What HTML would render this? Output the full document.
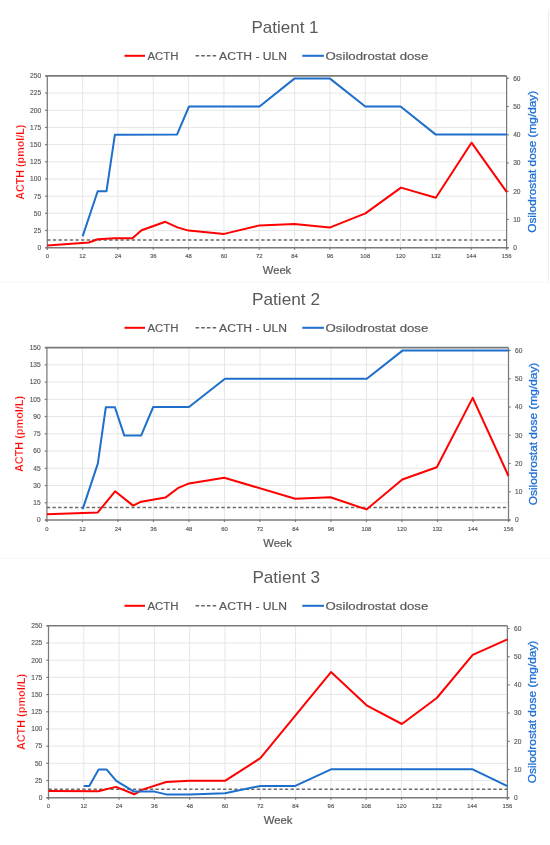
<!DOCTYPE html>
<html><head><meta charset="utf-8"><title>Patient charts</title>
<style>html,body{margin:0;padding:0;background:#fff;} body{width:550px;height:845px;overflow:hidden;} svg{display:block;}</style>
</head><body>
<svg width="550" height="845" viewBox="0 0 550 845" font-family="'Liberation Sans', Arial, sans-serif">
<rect x="0" y="0" width="550" height="845" fill="#fff"/>
<g><line x1="47.3" y1="230.52" x2="506.6" y2="230.52" stroke="#e6e6e6" stroke-width="1"/>
<line x1="47.3" y1="213.34" x2="506.6" y2="213.34" stroke="#e6e6e6" stroke-width="1"/>
<line x1="47.3" y1="196.16" x2="506.6" y2="196.16" stroke="#e6e6e6" stroke-width="1"/>
<line x1="47.3" y1="178.98" x2="506.6" y2="178.98" stroke="#e6e6e6" stroke-width="1"/>
<line x1="47.3" y1="161.80" x2="506.6" y2="161.80" stroke="#e6e6e6" stroke-width="1"/>
<line x1="47.3" y1="144.62" x2="506.6" y2="144.62" stroke="#e6e6e6" stroke-width="1"/>
<line x1="47.3" y1="127.44" x2="506.6" y2="127.44" stroke="#e6e6e6" stroke-width="1"/>
<line x1="47.3" y1="110.26" x2="506.6" y2="110.26" stroke="#e6e6e6" stroke-width="1"/>
<line x1="47.3" y1="93.08" x2="506.6" y2="93.08" stroke="#e6e6e6" stroke-width="1"/>
<line x1="82.63" y1="75.9" x2="82.63" y2="247.7" stroke="#e6e6e6" stroke-width="1"/>
<line x1="117.96" y1="75.9" x2="117.96" y2="247.7" stroke="#e6e6e6" stroke-width="1"/>
<line x1="153.29" y1="75.9" x2="153.29" y2="247.7" stroke="#e6e6e6" stroke-width="1"/>
<line x1="188.62" y1="75.9" x2="188.62" y2="247.7" stroke="#e6e6e6" stroke-width="1"/>
<line x1="223.95" y1="75.9" x2="223.95" y2="247.7" stroke="#e6e6e6" stroke-width="1"/>
<line x1="259.28" y1="75.9" x2="259.28" y2="247.7" stroke="#e6e6e6" stroke-width="1"/>
<line x1="294.62" y1="75.9" x2="294.62" y2="247.7" stroke="#e6e6e6" stroke-width="1"/>
<line x1="329.95" y1="75.9" x2="329.95" y2="247.7" stroke="#e6e6e6" stroke-width="1"/>
<line x1="365.28" y1="75.9" x2="365.28" y2="247.7" stroke="#e6e6e6" stroke-width="1"/>
<line x1="400.61" y1="75.9" x2="400.61" y2="247.7" stroke="#e6e6e6" stroke-width="1"/>
<line x1="435.94" y1="75.9" x2="435.94" y2="247.7" stroke="#e6e6e6" stroke-width="1"/>
<line x1="471.27" y1="75.9" x2="471.27" y2="247.7" stroke="#e6e6e6" stroke-width="1"/>
<line x1="45.4" y1="75.9" x2="506.6" y2="75.9" stroke="#7a7a7a" stroke-width="1.6"/>
<line x1="47.3" y1="75.9" x2="47.3" y2="249.5" stroke="#7a7a7a" stroke-width="1.25"/>
<line x1="506.6" y1="75.9" x2="506.6" y2="249.5" stroke="#7a7a7a" stroke-width="1.25"/>
<line x1="45.4" y1="247.7" x2="508.5" y2="247.7" stroke="#7a7a7a" stroke-width="1.6"/>
<line x1="45.1" y1="247.70" x2="47.3" y2="247.70" stroke="#7a7a7a" stroke-width="1.2"/>
<line x1="45.1" y1="230.52" x2="47.3" y2="230.52" stroke="#7a7a7a" stroke-width="1.2"/>
<line x1="45.1" y1="213.34" x2="47.3" y2="213.34" stroke="#7a7a7a" stroke-width="1.2"/>
<line x1="45.1" y1="196.16" x2="47.3" y2="196.16" stroke="#7a7a7a" stroke-width="1.2"/>
<line x1="45.1" y1="178.98" x2="47.3" y2="178.98" stroke="#7a7a7a" stroke-width="1.2"/>
<line x1="45.1" y1="161.80" x2="47.3" y2="161.80" stroke="#7a7a7a" stroke-width="1.2"/>
<line x1="45.1" y1="144.62" x2="47.3" y2="144.62" stroke="#7a7a7a" stroke-width="1.2"/>
<line x1="45.1" y1="127.44" x2="47.3" y2="127.44" stroke="#7a7a7a" stroke-width="1.2"/>
<line x1="45.1" y1="110.26" x2="47.3" y2="110.26" stroke="#7a7a7a" stroke-width="1.2"/>
<line x1="45.1" y1="93.08" x2="47.3" y2="93.08" stroke="#7a7a7a" stroke-width="1.2"/>
<line x1="45.1" y1="75.90" x2="47.3" y2="75.90" stroke="#7a7a7a" stroke-width="1.2"/>
<line x1="506.6" y1="247.70" x2="508.8" y2="247.70" stroke="#7a7a7a" stroke-width="1.2"/>
<line x1="506.6" y1="219.47" x2="508.8" y2="219.47" stroke="#7a7a7a" stroke-width="1.2"/>
<line x1="506.6" y1="191.23" x2="508.8" y2="191.23" stroke="#7a7a7a" stroke-width="1.2"/>
<line x1="506.6" y1="163.00" x2="508.8" y2="163.00" stroke="#7a7a7a" stroke-width="1.2"/>
<line x1="506.6" y1="134.77" x2="508.8" y2="134.77" stroke="#7a7a7a" stroke-width="1.2"/>
<line x1="506.6" y1="106.53" x2="508.8" y2="106.53" stroke="#7a7a7a" stroke-width="1.2"/>
<line x1="506.6" y1="78.30" x2="508.8" y2="78.30" stroke="#7a7a7a" stroke-width="1.2"/>
<line x1="47.30" y1="247.7" x2="47.30" y2="249.7" stroke="#7a7a7a" stroke-width="1.2"/>
<line x1="82.63" y1="247.7" x2="82.63" y2="249.7" stroke="#7a7a7a" stroke-width="1.2"/>
<line x1="117.96" y1="247.7" x2="117.96" y2="249.7" stroke="#7a7a7a" stroke-width="1.2"/>
<line x1="153.29" y1="247.7" x2="153.29" y2="249.7" stroke="#7a7a7a" stroke-width="1.2"/>
<line x1="188.62" y1="247.7" x2="188.62" y2="249.7" stroke="#7a7a7a" stroke-width="1.2"/>
<line x1="223.95" y1="247.7" x2="223.95" y2="249.7" stroke="#7a7a7a" stroke-width="1.2"/>
<line x1="259.28" y1="247.7" x2="259.28" y2="249.7" stroke="#7a7a7a" stroke-width="1.2"/>
<line x1="294.62" y1="247.7" x2="294.62" y2="249.7" stroke="#7a7a7a" stroke-width="1.2"/>
<line x1="329.95" y1="247.7" x2="329.95" y2="249.7" stroke="#7a7a7a" stroke-width="1.2"/>
<line x1="365.28" y1="247.7" x2="365.28" y2="249.7" stroke="#7a7a7a" stroke-width="1.2"/>
<line x1="400.61" y1="247.7" x2="400.61" y2="249.7" stroke="#7a7a7a" stroke-width="1.2"/>
<line x1="435.94" y1="247.7" x2="435.94" y2="249.7" stroke="#7a7a7a" stroke-width="1.2"/>
<line x1="471.27" y1="247.7" x2="471.27" y2="249.7" stroke="#7a7a7a" stroke-width="1.2"/>
<line x1="506.60" y1="247.7" x2="506.60" y2="249.7" stroke="#7a7a7a" stroke-width="1.2"/>
<line x1="47.3" y1="240.0" x2="506.6" y2="240.0" stroke="#6a6a6a" stroke-width="1.5" stroke-dasharray="3.3 2.33"/>
<polyline points="47.3,245.5 88.9,242.5 97.8,239.2 114.4,238.2 132.4,238.2 141.6,230.3 165.4,221.8 177.4,227.4 188.6,230.6 224.2,233.9 259.6,225.4 294.4,224.0 329.6,227.6 365.4,213.4 401.0,187.6 435.8,197.8 471.5,142.7 506.8,192.2" fill="none" stroke="#ff0000" stroke-width="2.0" stroke-linejoin="round" stroke-linecap="butt"/>
<polyline points="82.6,236.4 97.7,191.2 106.5,191.2 114.9,134.7 177.0,134.6 189.0,106.5 259.5,106.5 294.4,78.6 330.0,78.6 365.3,106.5 400.6,106.5 435.8,134.6 506.8,134.6" fill="none" stroke="#1e6ecb" stroke-width="2.0" stroke-linejoin="round" stroke-linecap="butt"/>
<text x="41.1" y="250.05" font-size="6.6" fill="#595959" stroke="#595959" stroke-width="0.15" text-anchor="end">0</text>
<text x="41.1" y="232.87" font-size="6.6" fill="#595959" stroke="#595959" stroke-width="0.15" text-anchor="end">25</text>
<text x="41.1" y="215.69" font-size="6.6" fill="#595959" stroke="#595959" stroke-width="0.15" text-anchor="end">50</text>
<text x="41.1" y="198.51" font-size="6.6" fill="#595959" stroke="#595959" stroke-width="0.15" text-anchor="end">75</text>
<text x="41.1" y="181.33" font-size="6.6" fill="#595959" stroke="#595959" stroke-width="0.15" text-anchor="end">100</text>
<text x="41.1" y="164.15" font-size="6.6" fill="#595959" stroke="#595959" stroke-width="0.15" text-anchor="end">125</text>
<text x="41.1" y="146.97" font-size="6.6" fill="#595959" stroke="#595959" stroke-width="0.15" text-anchor="end">150</text>
<text x="41.1" y="129.79" font-size="6.6" fill="#595959" stroke="#595959" stroke-width="0.15" text-anchor="end">175</text>
<text x="41.1" y="112.61" font-size="6.6" fill="#595959" stroke="#595959" stroke-width="0.15" text-anchor="end">200</text>
<text x="41.1" y="95.43" font-size="6.6" fill="#595959" stroke="#595959" stroke-width="0.15" text-anchor="end">225</text>
<text x="41.1" y="78.25" font-size="6.6" fill="#595959" stroke="#595959" stroke-width="0.15" text-anchor="end">250</text>
<text x="513.2" y="250.05" font-size="6.6" fill="#595959" stroke="#595959" stroke-width="0.15">0</text>
<text x="513.2" y="221.82" font-size="6.6" fill="#595959" stroke="#595959" stroke-width="0.15">10</text>
<text x="513.2" y="193.58" font-size="6.6" fill="#595959" stroke="#595959" stroke-width="0.15">20</text>
<text x="513.2" y="165.35" font-size="6.6" fill="#595959" stroke="#595959" stroke-width="0.15">30</text>
<text x="513.2" y="137.12" font-size="6.6" fill="#595959" stroke="#595959" stroke-width="0.15">40</text>
<text x="513.2" y="108.88" font-size="6.6" fill="#595959" stroke="#595959" stroke-width="0.15">50</text>
<text x="513.2" y="80.65" font-size="6.6" fill="#595959" stroke="#595959" stroke-width="0.15">60</text>
<text x="47.30" y="258.30" font-size="5.9" fill="#595959" stroke="#595959" stroke-width="0.15" text-anchor="middle">0</text>
<text x="82.63" y="258.30" font-size="5.9" fill="#595959" stroke="#595959" stroke-width="0.15" text-anchor="middle">12</text>
<text x="117.96" y="258.30" font-size="5.9" fill="#595959" stroke="#595959" stroke-width="0.15" text-anchor="middle">24</text>
<text x="153.29" y="258.30" font-size="5.9" fill="#595959" stroke="#595959" stroke-width="0.15" text-anchor="middle">36</text>
<text x="188.62" y="258.30" font-size="5.9" fill="#595959" stroke="#595959" stroke-width="0.15" text-anchor="middle">48</text>
<text x="223.95" y="258.30" font-size="5.9" fill="#595959" stroke="#595959" stroke-width="0.15" text-anchor="middle">60</text>
<text x="259.28" y="258.30" font-size="5.9" fill="#595959" stroke="#595959" stroke-width="0.15" text-anchor="middle">72</text>
<text x="294.62" y="258.30" font-size="5.9" fill="#595959" stroke="#595959" stroke-width="0.15" text-anchor="middle">84</text>
<text x="329.95" y="258.30" font-size="5.9" fill="#595959" stroke="#595959" stroke-width="0.15" text-anchor="middle">96</text>
<text x="365.28" y="258.30" font-size="5.9" fill="#595959" stroke="#595959" stroke-width="0.15" text-anchor="middle">108</text>
<text x="400.61" y="258.30" font-size="5.9" fill="#595959" stroke="#595959" stroke-width="0.15" text-anchor="middle">120</text>
<text x="435.94" y="258.30" font-size="5.9" fill="#595959" stroke="#595959" stroke-width="0.15" text-anchor="middle">132</text>
<text x="471.27" y="258.30" font-size="5.9" fill="#595959" stroke="#595959" stroke-width="0.15" text-anchor="middle">144</text>
<text x="506.60" y="258.30" font-size="5.9" fill="#595959" stroke="#595959" stroke-width="0.15" text-anchor="middle">156</text>
<text x="262.8" y="274.1" font-size="10.6" fill="#595959" stroke="#595959" stroke-width="0.2" textLength="28.4" lengthAdjust="spacingAndGlyphs">Week</text>
<text transform="translate(24.0,199.8) rotate(-90)" font-size="11" font-weight="bold" fill="#ff0000" stroke="#fff" stroke-width="0.25" paint-order="normal" textLength="75.2" lengthAdjust="spacingAndGlyphs">ACTH (pmol/L)</text>
<text transform="translate(535.8,232.8) rotate(-90)" font-size="11.5" fill="#1f6fd5" stroke="#1f6fd5" stroke-width="0.3" textLength="142.0" lengthAdjust="spacingAndGlyphs">Osilodrostat dose (mg/day)</text>
<text x="251.4" y="33.3" font-size="17" fill="#595959" textLength="67.2" lengthAdjust="spacingAndGlyphs">Patient 1</text>
<line x1="124.5" y1="55.8" x2="145.0" y2="55.8" stroke="#ff0000" stroke-width="2"/>
<text x="147.5" y="59.7" font-size="11.7" fill="#595959" stroke="#595959" stroke-width="0.2" textLength="31" lengthAdjust="spacingAndGlyphs">ACTH</text>
<line x1="195.5" y1="55.8" x2="216.3" y2="55.8" stroke="#666" stroke-width="1.6" stroke-dasharray="3.6 2.1"/>
<text x="219.1" y="59.7" font-size="11.7" fill="#595959" stroke="#595959" stroke-width="0.2" textLength="68" lengthAdjust="spacingAndGlyphs">ACTH - ULN</text>
<line x1="302.3" y1="55.8" x2="324.0" y2="55.8" stroke="#1e6ecb" stroke-width="2"/>
<text x="325.6" y="59.7" font-size="11.7" fill="#595959" stroke="#595959" stroke-width="0.2" textLength="102.7" lengthAdjust="spacingAndGlyphs">Osilodrostat dose</text></g>
<g><line x1="46.9" y1="502.76" x2="508.5" y2="502.76" stroke="#e6e6e6" stroke-width="1"/>
<line x1="46.9" y1="485.52" x2="508.5" y2="485.52" stroke="#e6e6e6" stroke-width="1"/>
<line x1="46.9" y1="468.28" x2="508.5" y2="468.28" stroke="#e6e6e6" stroke-width="1"/>
<line x1="46.9" y1="451.04" x2="508.5" y2="451.04" stroke="#e6e6e6" stroke-width="1"/>
<line x1="46.9" y1="433.80" x2="508.5" y2="433.80" stroke="#e6e6e6" stroke-width="1"/>
<line x1="46.9" y1="416.56" x2="508.5" y2="416.56" stroke="#e6e6e6" stroke-width="1"/>
<line x1="46.9" y1="399.32" x2="508.5" y2="399.32" stroke="#e6e6e6" stroke-width="1"/>
<line x1="46.9" y1="382.08" x2="508.5" y2="382.08" stroke="#e6e6e6" stroke-width="1"/>
<line x1="46.9" y1="364.84" x2="508.5" y2="364.84" stroke="#e6e6e6" stroke-width="1"/>
<line x1="82.41" y1="347.6" x2="82.41" y2="520.0" stroke="#e6e6e6" stroke-width="1"/>
<line x1="117.92" y1="347.6" x2="117.92" y2="520.0" stroke="#e6e6e6" stroke-width="1"/>
<line x1="153.42" y1="347.6" x2="153.42" y2="520.0" stroke="#e6e6e6" stroke-width="1"/>
<line x1="188.93" y1="347.6" x2="188.93" y2="520.0" stroke="#e6e6e6" stroke-width="1"/>
<line x1="224.44" y1="347.6" x2="224.44" y2="520.0" stroke="#e6e6e6" stroke-width="1"/>
<line x1="259.95" y1="347.6" x2="259.95" y2="520.0" stroke="#e6e6e6" stroke-width="1"/>
<line x1="295.45" y1="347.6" x2="295.45" y2="520.0" stroke="#e6e6e6" stroke-width="1"/>
<line x1="330.96" y1="347.6" x2="330.96" y2="520.0" stroke="#e6e6e6" stroke-width="1"/>
<line x1="366.47" y1="347.6" x2="366.47" y2="520.0" stroke="#e6e6e6" stroke-width="1"/>
<line x1="401.98" y1="347.6" x2="401.98" y2="520.0" stroke="#e6e6e6" stroke-width="1"/>
<line x1="437.48" y1="347.6" x2="437.48" y2="520.0" stroke="#e6e6e6" stroke-width="1"/>
<line x1="472.99" y1="347.6" x2="472.99" y2="520.0" stroke="#e6e6e6" stroke-width="1"/>
<line x1="45.0" y1="347.6" x2="508.5" y2="347.6" stroke="#7a7a7a" stroke-width="1.6"/>
<line x1="46.9" y1="347.6" x2="46.9" y2="521.8" stroke="#7a7a7a" stroke-width="1.25"/>
<line x1="508.5" y1="347.6" x2="508.5" y2="521.8" stroke="#7a7a7a" stroke-width="1.25"/>
<line x1="45.0" y1="520.0" x2="510.4" y2="520.0" stroke="#7a7a7a" stroke-width="1.6"/>
<line x1="44.7" y1="520.00" x2="46.9" y2="520.00" stroke="#7a7a7a" stroke-width="1.2"/>
<line x1="44.7" y1="502.76" x2="46.9" y2="502.76" stroke="#7a7a7a" stroke-width="1.2"/>
<line x1="44.7" y1="485.52" x2="46.9" y2="485.52" stroke="#7a7a7a" stroke-width="1.2"/>
<line x1="44.7" y1="468.28" x2="46.9" y2="468.28" stroke="#7a7a7a" stroke-width="1.2"/>
<line x1="44.7" y1="451.04" x2="46.9" y2="451.04" stroke="#7a7a7a" stroke-width="1.2"/>
<line x1="44.7" y1="433.80" x2="46.9" y2="433.80" stroke="#7a7a7a" stroke-width="1.2"/>
<line x1="44.7" y1="416.56" x2="46.9" y2="416.56" stroke="#7a7a7a" stroke-width="1.2"/>
<line x1="44.7" y1="399.32" x2="46.9" y2="399.32" stroke="#7a7a7a" stroke-width="1.2"/>
<line x1="44.7" y1="382.08" x2="46.9" y2="382.08" stroke="#7a7a7a" stroke-width="1.2"/>
<line x1="44.7" y1="364.84" x2="46.9" y2="364.84" stroke="#7a7a7a" stroke-width="1.2"/>
<line x1="44.7" y1="347.60" x2="46.9" y2="347.60" stroke="#7a7a7a" stroke-width="1.2"/>
<line x1="508.5" y1="520.00" x2="510.7" y2="520.00" stroke="#7a7a7a" stroke-width="1.2"/>
<line x1="508.5" y1="491.75" x2="510.7" y2="491.75" stroke="#7a7a7a" stroke-width="1.2"/>
<line x1="508.5" y1="463.50" x2="510.7" y2="463.50" stroke="#7a7a7a" stroke-width="1.2"/>
<line x1="508.5" y1="435.25" x2="510.7" y2="435.25" stroke="#7a7a7a" stroke-width="1.2"/>
<line x1="508.5" y1="407.00" x2="510.7" y2="407.00" stroke="#7a7a7a" stroke-width="1.2"/>
<line x1="508.5" y1="378.75" x2="510.7" y2="378.75" stroke="#7a7a7a" stroke-width="1.2"/>
<line x1="508.5" y1="350.50" x2="510.7" y2="350.50" stroke="#7a7a7a" stroke-width="1.2"/>
<line x1="46.90" y1="520.0" x2="46.90" y2="522.0" stroke="#7a7a7a" stroke-width="1.2"/>
<line x1="82.41" y1="520.0" x2="82.41" y2="522.0" stroke="#7a7a7a" stroke-width="1.2"/>
<line x1="117.92" y1="520.0" x2="117.92" y2="522.0" stroke="#7a7a7a" stroke-width="1.2"/>
<line x1="153.42" y1="520.0" x2="153.42" y2="522.0" stroke="#7a7a7a" stroke-width="1.2"/>
<line x1="188.93" y1="520.0" x2="188.93" y2="522.0" stroke="#7a7a7a" stroke-width="1.2"/>
<line x1="224.44" y1="520.0" x2="224.44" y2="522.0" stroke="#7a7a7a" stroke-width="1.2"/>
<line x1="259.95" y1="520.0" x2="259.95" y2="522.0" stroke="#7a7a7a" stroke-width="1.2"/>
<line x1="295.45" y1="520.0" x2="295.45" y2="522.0" stroke="#7a7a7a" stroke-width="1.2"/>
<line x1="330.96" y1="520.0" x2="330.96" y2="522.0" stroke="#7a7a7a" stroke-width="1.2"/>
<line x1="366.47" y1="520.0" x2="366.47" y2="522.0" stroke="#7a7a7a" stroke-width="1.2"/>
<line x1="401.98" y1="520.0" x2="401.98" y2="522.0" stroke="#7a7a7a" stroke-width="1.2"/>
<line x1="437.48" y1="520.0" x2="437.48" y2="522.0" stroke="#7a7a7a" stroke-width="1.2"/>
<line x1="472.99" y1="520.0" x2="472.99" y2="522.0" stroke="#7a7a7a" stroke-width="1.2"/>
<line x1="508.50" y1="520.0" x2="508.50" y2="522.0" stroke="#7a7a7a" stroke-width="1.2"/>
<line x1="46.9" y1="507.4" x2="508.5" y2="507.4" stroke="#6a6a6a" stroke-width="1.5" stroke-dasharray="3.3 2.33"/>
<polyline points="46.9,514.3 97.8,512.4 115.1,491.3 133.1,505.6 141.2,501.7 165.4,497.6 177.8,488.2 189.0,483.4 224.3,477.8 295.3,498.7 330.5,497.3 366.5,509.4 402.3,479.5 436.8,467.2 472.7,397.9 508.5,476.0" fill="none" stroke="#ff0000" stroke-width="2.0" stroke-linejoin="round" stroke-linecap="butt"/>
<polyline points="82.7,509.1 97.8,463.6 105.8,407.3 114.9,407.3 124.2,435.4 141.2,435.4 153.2,407.0 189.0,407.0 225.0,378.8 366.8,378.8 402.5,350.6 508.5,350.6" fill="none" stroke="#1e6ecb" stroke-width="2.0" stroke-linejoin="round" stroke-linecap="butt"/>
<text x="40.7" y="522.35" font-size="6.6" fill="#595959" stroke="#595959" stroke-width="0.15" text-anchor="end">0</text>
<text x="40.7" y="505.11" font-size="6.6" fill="#595959" stroke="#595959" stroke-width="0.15" text-anchor="end">15</text>
<text x="40.7" y="487.87" font-size="6.6" fill="#595959" stroke="#595959" stroke-width="0.15" text-anchor="end">30</text>
<text x="40.7" y="470.63" font-size="6.6" fill="#595959" stroke="#595959" stroke-width="0.15" text-anchor="end">45</text>
<text x="40.7" y="453.39" font-size="6.6" fill="#595959" stroke="#595959" stroke-width="0.15" text-anchor="end">60</text>
<text x="40.7" y="436.15" font-size="6.6" fill="#595959" stroke="#595959" stroke-width="0.15" text-anchor="end">75</text>
<text x="40.7" y="418.91" font-size="6.6" fill="#595959" stroke="#595959" stroke-width="0.15" text-anchor="end">90</text>
<text x="40.7" y="401.67" font-size="6.6" fill="#595959" stroke="#595959" stroke-width="0.15" text-anchor="end">105</text>
<text x="40.7" y="384.43" font-size="6.6" fill="#595959" stroke="#595959" stroke-width="0.15" text-anchor="end">120</text>
<text x="40.7" y="367.19" font-size="6.6" fill="#595959" stroke="#595959" stroke-width="0.15" text-anchor="end">135</text>
<text x="40.7" y="349.95" font-size="6.6" fill="#595959" stroke="#595959" stroke-width="0.15" text-anchor="end">150</text>
<text x="515.1" y="522.35" font-size="6.6" fill="#595959" stroke="#595959" stroke-width="0.15">0</text>
<text x="515.1" y="494.10" font-size="6.6" fill="#595959" stroke="#595959" stroke-width="0.15">10</text>
<text x="515.1" y="465.85" font-size="6.6" fill="#595959" stroke="#595959" stroke-width="0.15">20</text>
<text x="515.1" y="437.60" font-size="6.6" fill="#595959" stroke="#595959" stroke-width="0.15">30</text>
<text x="515.1" y="409.35" font-size="6.6" fill="#595959" stroke="#595959" stroke-width="0.15">40</text>
<text x="515.1" y="381.10" font-size="6.6" fill="#595959" stroke="#595959" stroke-width="0.15">50</text>
<text x="515.1" y="352.85" font-size="6.6" fill="#595959" stroke="#595959" stroke-width="0.15">60</text>
<text x="46.90" y="530.70" font-size="5.9" fill="#595959" stroke="#595959" stroke-width="0.15" text-anchor="middle">0</text>
<text x="82.41" y="530.70" font-size="5.9" fill="#595959" stroke="#595959" stroke-width="0.15" text-anchor="middle">12</text>
<text x="117.92" y="530.70" font-size="5.9" fill="#595959" stroke="#595959" stroke-width="0.15" text-anchor="middle">24</text>
<text x="153.42" y="530.70" font-size="5.9" fill="#595959" stroke="#595959" stroke-width="0.15" text-anchor="middle">36</text>
<text x="188.93" y="530.70" font-size="5.9" fill="#595959" stroke="#595959" stroke-width="0.15" text-anchor="middle">48</text>
<text x="224.44" y="530.70" font-size="5.9" fill="#595959" stroke="#595959" stroke-width="0.15" text-anchor="middle">60</text>
<text x="259.95" y="530.70" font-size="5.9" fill="#595959" stroke="#595959" stroke-width="0.15" text-anchor="middle">72</text>
<text x="295.45" y="530.70" font-size="5.9" fill="#595959" stroke="#595959" stroke-width="0.15" text-anchor="middle">84</text>
<text x="330.96" y="530.70" font-size="5.9" fill="#595959" stroke="#595959" stroke-width="0.15" text-anchor="middle">96</text>
<text x="366.47" y="530.70" font-size="5.9" fill="#595959" stroke="#595959" stroke-width="0.15" text-anchor="middle">108</text>
<text x="401.98" y="530.70" font-size="5.9" fill="#595959" stroke="#595959" stroke-width="0.15" text-anchor="middle">120</text>
<text x="437.48" y="530.70" font-size="5.9" fill="#595959" stroke="#595959" stroke-width="0.15" text-anchor="middle">132</text>
<text x="472.99" y="530.70" font-size="5.9" fill="#595959" stroke="#595959" stroke-width="0.15" text-anchor="middle">144</text>
<text x="508.50" y="530.70" font-size="5.9" fill="#595959" stroke="#595959" stroke-width="0.15" text-anchor="middle">156</text>
<text x="263.3" y="546.7" font-size="10.6" fill="#595959" stroke="#595959" stroke-width="0.2" textLength="28.6" lengthAdjust="spacingAndGlyphs">Week</text>
<text transform="translate(23.4,472.0) rotate(-90)" font-size="11" font-weight="bold" fill="#ff0000" stroke="#fff" stroke-width="0.25" paint-order="normal" textLength="76.1" lengthAdjust="spacingAndGlyphs">ACTH (pmol/L)</text>
<text transform="translate(537.1,505.3) rotate(-90)" font-size="11.5" fill="#1f6fd5" stroke="#1f6fd5" stroke-width="0.3" textLength="142.6" lengthAdjust="spacingAndGlyphs">Osilodrostat dose (mg/day)</text>
<text x="252.0" y="305.1" font-size="17" fill="#595959" textLength="68.0" lengthAdjust="spacingAndGlyphs">Patient 2</text>
<line x1="124.5" y1="327.8" x2="145.0" y2="327.8" stroke="#ff0000" stroke-width="2"/>
<text x="147.5" y="331.7" font-size="11.7" fill="#595959" stroke="#595959" stroke-width="0.2" textLength="31" lengthAdjust="spacingAndGlyphs">ACTH</text>
<line x1="195.5" y1="327.8" x2="216.3" y2="327.8" stroke="#666" stroke-width="1.6" stroke-dasharray="3.6 2.1"/>
<text x="219.1" y="331.7" font-size="11.7" fill="#595959" stroke="#595959" stroke-width="0.2" textLength="68" lengthAdjust="spacingAndGlyphs">ACTH - ULN</text>
<line x1="302.3" y1="327.8" x2="324.0" y2="327.8" stroke="#1e6ecb" stroke-width="2"/>
<text x="325.6" y="331.7" font-size="11.7" fill="#595959" stroke="#595959" stroke-width="0.2" textLength="102.7" lengthAdjust="spacingAndGlyphs">Osilodrostat dose</text></g>
<g><line x1="48.5" y1="780.51" x2="507.4" y2="780.51" stroke="#e6e6e6" stroke-width="1"/>
<line x1="48.5" y1="763.32" x2="507.4" y2="763.32" stroke="#e6e6e6" stroke-width="1"/>
<line x1="48.5" y1="746.13" x2="507.4" y2="746.13" stroke="#e6e6e6" stroke-width="1"/>
<line x1="48.5" y1="728.94" x2="507.4" y2="728.94" stroke="#e6e6e6" stroke-width="1"/>
<line x1="48.5" y1="711.75" x2="507.4" y2="711.75" stroke="#e6e6e6" stroke-width="1"/>
<line x1="48.5" y1="694.56" x2="507.4" y2="694.56" stroke="#e6e6e6" stroke-width="1"/>
<line x1="48.5" y1="677.37" x2="507.4" y2="677.37" stroke="#e6e6e6" stroke-width="1"/>
<line x1="48.5" y1="660.18" x2="507.4" y2="660.18" stroke="#e6e6e6" stroke-width="1"/>
<line x1="48.5" y1="642.99" x2="507.4" y2="642.99" stroke="#e6e6e6" stroke-width="1"/>
<line x1="83.80" y1="625.8" x2="83.80" y2="797.7" stroke="#e6e6e6" stroke-width="1"/>
<line x1="119.10" y1="625.8" x2="119.10" y2="797.7" stroke="#e6e6e6" stroke-width="1"/>
<line x1="154.40" y1="625.8" x2="154.40" y2="797.7" stroke="#e6e6e6" stroke-width="1"/>
<line x1="189.70" y1="625.8" x2="189.70" y2="797.7" stroke="#e6e6e6" stroke-width="1"/>
<line x1="225.00" y1="625.8" x2="225.00" y2="797.7" stroke="#e6e6e6" stroke-width="1"/>
<line x1="260.30" y1="625.8" x2="260.30" y2="797.7" stroke="#e6e6e6" stroke-width="1"/>
<line x1="295.60" y1="625.8" x2="295.60" y2="797.7" stroke="#e6e6e6" stroke-width="1"/>
<line x1="330.90" y1="625.8" x2="330.90" y2="797.7" stroke="#e6e6e6" stroke-width="1"/>
<line x1="366.20" y1="625.8" x2="366.20" y2="797.7" stroke="#e6e6e6" stroke-width="1"/>
<line x1="401.50" y1="625.8" x2="401.50" y2="797.7" stroke="#e6e6e6" stroke-width="1"/>
<line x1="436.80" y1="625.8" x2="436.80" y2="797.7" stroke="#e6e6e6" stroke-width="1"/>
<line x1="472.10" y1="625.8" x2="472.10" y2="797.7" stroke="#e6e6e6" stroke-width="1"/>
<line x1="46.6" y1="625.8" x2="507.4" y2="625.8" stroke="#7a7a7a" stroke-width="1.6"/>
<line x1="48.5" y1="625.8" x2="48.5" y2="799.5" stroke="#7a7a7a" stroke-width="1.25"/>
<line x1="507.4" y1="625.8" x2="507.4" y2="799.5" stroke="#7a7a7a" stroke-width="1.25"/>
<line x1="46.6" y1="797.7" x2="509.3" y2="797.7" stroke="#7a7a7a" stroke-width="1.6"/>
<line x1="46.3" y1="797.70" x2="48.5" y2="797.70" stroke="#7a7a7a" stroke-width="1.2"/>
<line x1="46.3" y1="780.51" x2="48.5" y2="780.51" stroke="#7a7a7a" stroke-width="1.2"/>
<line x1="46.3" y1="763.32" x2="48.5" y2="763.32" stroke="#7a7a7a" stroke-width="1.2"/>
<line x1="46.3" y1="746.13" x2="48.5" y2="746.13" stroke="#7a7a7a" stroke-width="1.2"/>
<line x1="46.3" y1="728.94" x2="48.5" y2="728.94" stroke="#7a7a7a" stroke-width="1.2"/>
<line x1="46.3" y1="711.75" x2="48.5" y2="711.75" stroke="#7a7a7a" stroke-width="1.2"/>
<line x1="46.3" y1="694.56" x2="48.5" y2="694.56" stroke="#7a7a7a" stroke-width="1.2"/>
<line x1="46.3" y1="677.37" x2="48.5" y2="677.37" stroke="#7a7a7a" stroke-width="1.2"/>
<line x1="46.3" y1="660.18" x2="48.5" y2="660.18" stroke="#7a7a7a" stroke-width="1.2"/>
<line x1="46.3" y1="642.99" x2="48.5" y2="642.99" stroke="#7a7a7a" stroke-width="1.2"/>
<line x1="46.3" y1="625.80" x2="48.5" y2="625.80" stroke="#7a7a7a" stroke-width="1.2"/>
<line x1="507.4" y1="797.70" x2="509.6" y2="797.70" stroke="#7a7a7a" stroke-width="1.2"/>
<line x1="507.4" y1="769.50" x2="509.6" y2="769.50" stroke="#7a7a7a" stroke-width="1.2"/>
<line x1="507.4" y1="741.30" x2="509.6" y2="741.30" stroke="#7a7a7a" stroke-width="1.2"/>
<line x1="507.4" y1="713.10" x2="509.6" y2="713.10" stroke="#7a7a7a" stroke-width="1.2"/>
<line x1="507.4" y1="684.90" x2="509.6" y2="684.90" stroke="#7a7a7a" stroke-width="1.2"/>
<line x1="507.4" y1="656.70" x2="509.6" y2="656.70" stroke="#7a7a7a" stroke-width="1.2"/>
<line x1="507.4" y1="628.50" x2="509.6" y2="628.50" stroke="#7a7a7a" stroke-width="1.2"/>
<line x1="48.50" y1="797.7" x2="48.50" y2="799.7" stroke="#7a7a7a" stroke-width="1.2"/>
<line x1="83.80" y1="797.7" x2="83.80" y2="799.7" stroke="#7a7a7a" stroke-width="1.2"/>
<line x1="119.10" y1="797.7" x2="119.10" y2="799.7" stroke="#7a7a7a" stroke-width="1.2"/>
<line x1="154.40" y1="797.7" x2="154.40" y2="799.7" stroke="#7a7a7a" stroke-width="1.2"/>
<line x1="189.70" y1="797.7" x2="189.70" y2="799.7" stroke="#7a7a7a" stroke-width="1.2"/>
<line x1="225.00" y1="797.7" x2="225.00" y2="799.7" stroke="#7a7a7a" stroke-width="1.2"/>
<line x1="260.30" y1="797.7" x2="260.30" y2="799.7" stroke="#7a7a7a" stroke-width="1.2"/>
<line x1="295.60" y1="797.7" x2="295.60" y2="799.7" stroke="#7a7a7a" stroke-width="1.2"/>
<line x1="330.90" y1="797.7" x2="330.90" y2="799.7" stroke="#7a7a7a" stroke-width="1.2"/>
<line x1="366.20" y1="797.7" x2="366.20" y2="799.7" stroke="#7a7a7a" stroke-width="1.2"/>
<line x1="401.50" y1="797.7" x2="401.50" y2="799.7" stroke="#7a7a7a" stroke-width="1.2"/>
<line x1="436.80" y1="797.7" x2="436.80" y2="799.7" stroke="#7a7a7a" stroke-width="1.2"/>
<line x1="472.10" y1="797.7" x2="472.10" y2="799.7" stroke="#7a7a7a" stroke-width="1.2"/>
<line x1="507.40" y1="797.7" x2="507.40" y2="799.7" stroke="#7a7a7a" stroke-width="1.2"/>
<line x1="48.5" y1="789.2" x2="507.4" y2="789.2" stroke="#6a6a6a" stroke-width="1.5" stroke-dasharray="3.3 2.33"/>
<polyline points="48.5,791.0 98.3,791.2 116.0,786.9 134.3,794.3 142.5,789.6 166.2,782.0 189.4,780.7 225.0,780.8 260.4,758.2 331.0,672.1 366.6,705.3 401.9,724.0 436.8,698.0 472.7,654.9 507.4,639.4" fill="none" stroke="#ff0000" stroke-width="2.0" stroke-linejoin="round" stroke-linecap="butt"/>
<polyline points="83.7,785.9 89.3,785.9 98.6,769.6 106.7,769.6 116.3,780.8 134.0,791.6 154.5,791.6 166.2,794.4 189.4,794.6 225.0,793.3 260.4,785.9 295.3,785.9 331.0,769.3 472.7,769.3 507.4,786.1" fill="none" stroke="#1e6ecb" stroke-width="2.0" stroke-linejoin="round" stroke-linecap="butt"/>
<text x="42.3" y="800.05" font-size="6.6" fill="#595959" stroke="#595959" stroke-width="0.15" text-anchor="end">0</text>
<text x="42.3" y="782.86" font-size="6.6" fill="#595959" stroke="#595959" stroke-width="0.15" text-anchor="end">25</text>
<text x="42.3" y="765.67" font-size="6.6" fill="#595959" stroke="#595959" stroke-width="0.15" text-anchor="end">50</text>
<text x="42.3" y="748.48" font-size="6.6" fill="#595959" stroke="#595959" stroke-width="0.15" text-anchor="end">75</text>
<text x="42.3" y="731.29" font-size="6.6" fill="#595959" stroke="#595959" stroke-width="0.15" text-anchor="end">100</text>
<text x="42.3" y="714.10" font-size="6.6" fill="#595959" stroke="#595959" stroke-width="0.15" text-anchor="end">125</text>
<text x="42.3" y="696.91" font-size="6.6" fill="#595959" stroke="#595959" stroke-width="0.15" text-anchor="end">150</text>
<text x="42.3" y="679.72" font-size="6.6" fill="#595959" stroke="#595959" stroke-width="0.15" text-anchor="end">175</text>
<text x="42.3" y="662.53" font-size="6.6" fill="#595959" stroke="#595959" stroke-width="0.15" text-anchor="end">200</text>
<text x="42.3" y="645.34" font-size="6.6" fill="#595959" stroke="#595959" stroke-width="0.15" text-anchor="end">225</text>
<text x="42.3" y="628.15" font-size="6.6" fill="#595959" stroke="#595959" stroke-width="0.15" text-anchor="end">250</text>
<text x="514.0" y="800.05" font-size="6.6" fill="#595959" stroke="#595959" stroke-width="0.15">0</text>
<text x="514.0" y="771.85" font-size="6.6" fill="#595959" stroke="#595959" stroke-width="0.15">10</text>
<text x="514.0" y="743.65" font-size="6.6" fill="#595959" stroke="#595959" stroke-width="0.15">20</text>
<text x="514.0" y="715.45" font-size="6.6" fill="#595959" stroke="#595959" stroke-width="0.15">30</text>
<text x="514.0" y="687.25" font-size="6.6" fill="#595959" stroke="#595959" stroke-width="0.15">40</text>
<text x="514.0" y="659.05" font-size="6.6" fill="#595959" stroke="#595959" stroke-width="0.15">50</text>
<text x="514.0" y="630.85" font-size="6.6" fill="#595959" stroke="#595959" stroke-width="0.15">60</text>
<text x="48.50" y="808.20" font-size="5.9" fill="#595959" stroke="#595959" stroke-width="0.15" text-anchor="middle">0</text>
<text x="83.80" y="808.20" font-size="5.9" fill="#595959" stroke="#595959" stroke-width="0.15" text-anchor="middle">12</text>
<text x="119.10" y="808.20" font-size="5.9" fill="#595959" stroke="#595959" stroke-width="0.15" text-anchor="middle">24</text>
<text x="154.40" y="808.20" font-size="5.9" fill="#595959" stroke="#595959" stroke-width="0.15" text-anchor="middle">36</text>
<text x="189.70" y="808.20" font-size="5.9" fill="#595959" stroke="#595959" stroke-width="0.15" text-anchor="middle">48</text>
<text x="225.00" y="808.20" font-size="5.9" fill="#595959" stroke="#595959" stroke-width="0.15" text-anchor="middle">60</text>
<text x="260.30" y="808.20" font-size="5.9" fill="#595959" stroke="#595959" stroke-width="0.15" text-anchor="middle">72</text>
<text x="295.60" y="808.20" font-size="5.9" fill="#595959" stroke="#595959" stroke-width="0.15" text-anchor="middle">84</text>
<text x="330.90" y="808.20" font-size="5.9" fill="#595959" stroke="#595959" stroke-width="0.15" text-anchor="middle">96</text>
<text x="366.20" y="808.20" font-size="5.9" fill="#595959" stroke="#595959" stroke-width="0.15" text-anchor="middle">108</text>
<text x="401.50" y="808.20" font-size="5.9" fill="#595959" stroke="#595959" stroke-width="0.15" text-anchor="middle">120</text>
<text x="436.80" y="808.20" font-size="5.9" fill="#595959" stroke="#595959" stroke-width="0.15" text-anchor="middle">132</text>
<text x="472.10" y="808.20" font-size="5.9" fill="#595959" stroke="#595959" stroke-width="0.15" text-anchor="middle">144</text>
<text x="507.40" y="808.20" font-size="5.9" fill="#595959" stroke="#595959" stroke-width="0.15" text-anchor="middle">156</text>
<text x="263.7" y="823.7" font-size="10.6" fill="#595959" stroke="#595959" stroke-width="0.2" textLength="28.7" lengthAdjust="spacingAndGlyphs">Week</text>
<text transform="translate(24.7,750.1) rotate(-90)" font-size="11" font-weight="bold" fill="#ff0000" stroke="#fff" stroke-width="0.25" paint-order="normal" textLength="76.1" lengthAdjust="spacingAndGlyphs">ACTH (pmol/L)</text>
<text transform="translate(536.4,783.3) rotate(-90)" font-size="11.5" fill="#1f6fd5" stroke="#1f6fd5" stroke-width="0.3" textLength="142.6" lengthAdjust="spacingAndGlyphs">Osilodrostat dose (mg/day)</text>
<text x="252.4" y="583.1" font-size="17" fill="#595959" textLength="67.6" lengthAdjust="spacingAndGlyphs">Patient 3</text>
<line x1="124.5" y1="605.8" x2="145.0" y2="605.8" stroke="#ff0000" stroke-width="2"/>
<text x="147.5" y="609.7" font-size="11.7" fill="#595959" stroke="#595959" stroke-width="0.2" textLength="31" lengthAdjust="spacingAndGlyphs">ACTH</text>
<line x1="195.5" y1="605.8" x2="216.3" y2="605.8" stroke="#666" stroke-width="1.6" stroke-dasharray="3.6 2.1"/>
<text x="219.1" y="609.7" font-size="11.7" fill="#595959" stroke="#595959" stroke-width="0.2" textLength="68" lengthAdjust="spacingAndGlyphs">ACTH - ULN</text>
<line x1="302.3" y1="605.8" x2="324.0" y2="605.8" stroke="#1e6ecb" stroke-width="2"/>
<text x="325.6" y="609.7" font-size="11.7" fill="#595959" stroke="#595959" stroke-width="0.2" textLength="102.7" lengthAdjust="spacingAndGlyphs">Osilodrostat dose</text></g>
<line x1="548.5" y1="9.5" x2="548.5" y2="283" stroke="#eeeeee" stroke-width="1"/>
<line x1="0" y1="282.5" x2="548.5" y2="282.5" stroke="#f8f8f8" stroke-width="1"/>
<line x1="0" y1="558.5" x2="550" y2="558.5" stroke="#f9f9f9" stroke-width="1"/>
</svg>
</body></html>
